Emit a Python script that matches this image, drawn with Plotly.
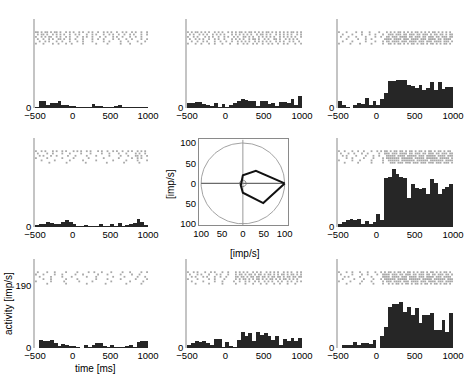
import plotly.graph_objects as go
import numpy as np

# ---------------- data ----------------
bin_starts = list(range(-500, 1000, 50))   # 30 bins of 50 ms
bin_width = 50

# PSTH values [imp/s], panels in reading order (direction in comments)
hist_ul = [3, 22, 22, 10, 15, 15, 22, 9, 9, 7, 5, 3, 2, 2, 2, 13, 7, 7, 2, 2, 2, 7, 10, 2, 1, 2, 2, 2, 2, 3]      # 135 deg
hist_u = [15, 15, 18, 18, 12, 10, 6, 14, 3, 12, 3, 10, 16, 22, 27, 25, 22, 20, 5, 22, 22, 12, 15, 6, 17, 17, 14, 28, 10, 35]  # 90 deg
hist_ur = [20, 8, 3, 0, 8, 15, 12, 30, 10, 20, 10, 28, 45, 82, 82, 85, 85, 85, 70, 68, 60, 70, 55, 60, 78, 55, 78, 58, 65, 65]  # 45 deg
hist_l = [5, 8, 10, 15, 12, 8, 10, 15, 20, 15, 8, 3, 3, 5, 3, 2, 3, 8, 2, 3, 10, 2, 12, 3, 5, 8, 12, 25, 15, 5]   # 180 deg
hist_r = [8, 15, 20, 25, 20, 25, 10, 18, 10, 15, 38, 20, 150, 152, 175, 160, 152, 150, 87, 130, 118, 115, 117, 100, 145, 135, 100, 115, 120, 130]  # 0 deg
hist_ll = [0, 25, 20, 22, 25, 15, 5, 12, 10, 5, 5, 2, 0, 8, 3, 10, 15, 15, 5, 3, 8, 3, 2, 2, 5, 8, 3, 18, 20, 20]  # 225 deg
hist_d = [10, 15, 22, 18, 20, 15, 10, 28, 28, 2, 18, 5, 3, 25, 50, 35, 45, 20, 50, 40, 45, 35, 25, 35, 10, 28, 22, 30, 20, 30]  # 270 deg
hist_dr = [0, 8, 8, 8, 18, 8, 15, 15, 12, 25, 0, 37, 65, 123, 133, 135, 140, 110, 125, 100, 120, 75, 100, 100, 105, 55, 55, 85, 50, 107]  # 315 deg

# Raster rows (one string per trial, '|' = spike, equal time slots over -500..1000 ms)
raster_ul = [
    "||.|.||.|.||.|..|.|.|..|.|..|.|..|..|.|.|..|..|.|..|.|..|..|",
    ".|.||.|..|.|.|.|..|..|.|...|..|.|...|..|.|..|..|..|.|...|..|",
    "|..|.|.||..|.|..|.|...|..|.|..|...|..|...|.|..|...|..|..|...",
    ".|..|..|.|..||.|..|..|...|....|..|..|....|..|...|..|....|..|",
    "..|..|.|...|..|...|...|..|....|.....|..|.....|...|....|...|.",
    "|...|....|..|...|..|.....|......|.....|......|....|.....|...",
]
raster_u = [
    "|.|.||.|.|.|..|.|.|..|.|.|.||.|.||.|.|.|.||.|.|.|.|.|.||.|.|",
    ".|.|..|.|.|..|.|.|.|...|.|.|.|.|.|..|.||.|.|..|.|.|.|.|..|.|",
    "|..|.|...|.|.|..|..|.|..|.|..||.|.|..|.|.|.|.|..|.|.|.|.|..|",
    ".|..|.|.|..|..|.|..|...|.|.|.|..|.||.|..|.|..||.|..|.|.|.|..",
    "..|..|..|.|...|..|..|..|..|.|.|.|..|.|.|.|.|..|.|.|..|.|..|.",
    "|...|..|...|..|...|...|...|..|.|..|.|..|..|.|..|..|.|...|..|",
]
raster_ur = [
    "|...|....|..|...|....|...|.|.|.||.|.|.|.||.|.|.|.||.|.|.|.|.",
    "..|....|....|...|..|...|..|||.|||.||.|||.||.|||.|.||.||.|.||",
    ".|...|...|....|....|..|..||.|||.||||.||.|||.||.|||.||.|||.||",
    "....|.....|...|..|......||||.||||.|||.||||.|||.||||.||.||||.",
    "..|....|......|....|...|.||.||||.|||.||||.|||.|||.||||.|||.|",
    "|.....|....|.....|.....|..||.|.||.|.|.||.|.||.|.||.|.|.||.|.",
]
raster_l = [
    "|..|.|...|.|..|.|...|.|.|..|.|...|.|..|..|.|..|..|.|..|.|.|.",
    ".|....|..|....|...|.....|....|.....|...|....|...|....|.|..|.",
    "..|.|...|..|.....|...|.....|....|......|.....|...|...||.|..|",
    "|.....|.......|.....|.......|.......|.......|......|..|.|...",
    "...|......|.......|......|......|........|......|.....|....|",
    ".......|........|.........|..........|........|.......|....",
]
raster_r = [
    "|..|...|..|..|...|..|.|.||.|.||.||.|.||.|.||.|.||.|.||.|.||.",
    ".|...|..|...|..|.....|..|||.|||.||||.||.|||.||.|||.||.|||.||",
    "..|.|....|....|...|..|...|||||.||||.|||||.|||.|||||.||||.|||",
    "....|..|.....|....|....|.|||||||.||||||.|||||.||||||.|||||.|",
    "|......|...|.....|.....|..||||||.|||||||.||||||.|||||||.||||",
    "...|......|......|.....|...|||.|||.|||.|||.|||.|||.|||.|||.|",
]
raster_ll = [
    ".|....|...|.....|.....|.....|..|...|....|.....|...|.....|..|",
    "|...|.....|...|......|...|.......|....|......|.....|...|....",
    "..|.....|.....|....|.......|....|........|.....|......|...|.",
    "....|...|.......|.....|.........|.....|......|.......|.....|",
    "|.......|......|.......|......|.........|.........|......|..",
    "......|.........|..........|.........|..........|.......|...",
]
raster_d = [
    "|..|.|...|..|.|...|..|...|.|.|.|..|.|.|..|.|.|.|..|.|.|..|.|",
    ".|...|.|...|...|.|...|...|.||.|.||.|.||.|.||.|.|.||.|.||.|.|",
    "..|.|...|.|...|..|..|....||.||.|.||.||.||.|.||.||.|.||.||.||",
    "|....|.....|..|....|.....|.|.||.|.|.||.|.|.||.|.|.||.|.|.|..",
    "..|.....|.....|...|.....|..|..|.|..|.|..|.|.|..|.|..|.|..|.|",
    "....|......|......|......|....|...|...|..|...|..|...|...|...",
]
raster_dr = [
    "|...|..|...|...|...|..|.|.||.|.||.|.||.|.|.||.|.||.|.|.||.|.",
    ".|.....|....|..|....|..||||.|||.||.|||.||.|||.||.||.|||.||.|",
    "...|.|.....|.....|.....||||.||||.|||.||||.|||.||||.|||.||||.",
    "..|.....|....|....|...|.||||||.|||||.||||||.|||||.||||||.|||",
    "|.....|.....|....|.....|.|||.||||.|||.||||.|||.||||.|||.||||",
    "....|......|......|....|..|.|.||.|.||.|.||.|.||.|.||.|.||.|.",
]

# Tuning (polar) plot
directions_deg = [0, 45, 90, 135, 180, 225, 270, 315]
mean_response = [100, 44, 20, 6, 5, 7, 23, 69]
spontaneous_rate = 8
outer_circle = 100

x_ticks = [-500, 0, 500, 1000]
polar_ticks = [-100, -50, 0, 50, 100]
polar_ticktext = ["100", "50", "0", "50", "100"]

# ---------------- layout geometry ----------------
W, H = 474, 389
col_px = [(35, 148), (187, 302), (338, 453)]
row_base = [108, 227, 348]
panel_h = 89
Y_MAX = 270

panels = [
    (0, 0, hist_ul, raster_ul),
    (0, 1, hist_u, raster_u),
    (0, 2, hist_ur, raster_ur),
    (1, 0, hist_l, raster_l),
    (1, 2, hist_r, raster_r),
    (2, 0, hist_ll, raster_ll),
    (2, 1, hist_d, raster_d),
    (2, 2, hist_dr, raster_dr),
]

FONT = "Liberation Sans, Arial, Helvetica, sans-serif"
BAR_COLOR = "#262626"
DOT_COLOR = "#a8a8a8"
AXIS_COLOR = "#c4c4c4"

fig = go.Figure()
layout = {}

raster_rows_y = [230, 223, 216, 209, 202, 195]

for i, (r, c, hist, raster) in enumerate(panels, start=1):
    xs = "" if i == 1 else str(i)
    x0, x1 = col_px[c]
    yb = row_base[r]
    yt = yb - panel_h
    centers = [b + bin_width / 2 for b in bin_starts]
    fig.add_trace(go.Bar(
        x=centers, y=hist, width=bin_width,
        marker=dict(color=BAR_COLOR, line=dict(width=0)),
        xaxis="x" + xs, yaxis="y" + xs, showlegend=False, hoverinfo="skip",
    ))
    sx, sy = [], []
    for row_y, s in zip(raster_rows_y, raster):
        n = len(s)
        slot = 1500.0 / n
        for k, ch in enumerate(s):
            if ch == "|":
                sx.append(-500 + slot * (k + 0.5))
                sy.append(row_y)
    fig.add_trace(go.Scatter(
        x=sx, y=sy, mode="markers",
        marker=dict(color=DOT_COLOR, size=1.8, symbol="square", line=dict(width=0)),
        xaxis="x" + xs, yaxis="y" + xs, showlegend=False, hoverinfo="skip",
    ))
    layout["xaxis" + xs] = dict(
        domain=[x0 / W, x1 / W], range=[-500, 1000], anchor="y" + xs,
        tickvals=x_ticks, ticks="", showgrid=False, zeroline=False, showline=False,
        automargin=False,
        tickfont=dict(size=9.5, color="black", family=FONT),
    )
    yticks = [0, 190] if (r, c) == (2, 0) else [0]
    layout["yaxis" + xs] = dict(
        domain=[1 - yb / H, 1 - yt / H], range=[0, Y_MAX], anchor="x" + xs,
        tickvals=yticks, ticks="", showgrid=False, zeroline=False,
        showline=True, linecolor=AXIS_COLOR, linewidth=1.5, automargin=False,
        tickfont=dict(size=9.5, color="black", family=FONT),
    )

# ---------------- polar tuning panel (center) ----------------
theta = np.deg2rad(directions_deg + [directions_deg[0]])
rr = np.array(mean_response + [mean_response[0]], dtype=float)
px = rr * np.cos(theta)
py = rr * np.sin(theta)

t = np.linspace(0, 2 * np.pi, 181)
fig.add_trace(go.Scatter(x=outer_circle * np.cos(t), y=outer_circle * np.sin(t), mode="lines",
                         line=dict(color="#8a8a8a", width=0.8),
                         xaxis="x9", yaxis="y9", showlegend=False, hoverinfo="skip"))
fig.add_trace(go.Scatter(x=[-outer_circle, outer_circle], y=[0, 0], mode="lines",
                         line=dict(color="#6a6a6a", width=1.3),
                         xaxis="x9", yaxis="y9", showlegend=False, hoverinfo="skip"))
fig.add_trace(go.Scatter(x=[0, 0], y=[-outer_circle - 5, outer_circle + 8], mode="lines",
                         line=dict(color="#9a9a9a", width=1),
                         xaxis="x9", yaxis="y9", showlegend=False, hoverinfo="skip"))
fig.add_trace(go.Scatter(x=spontaneous_rate * np.cos(t), y=spontaneous_rate * np.sin(t), mode="lines",
                         line=dict(color="#6a6a6a", width=0.8),
                         xaxis="x9", yaxis="y9", showlegend=False, hoverinfo="skip"))
fig.add_trace(go.Scatter(x=px, y=py, mode="lines",
                         line=dict(color="#111111", width=2),
                         xaxis="x9", yaxis="y9", showlegend=False, hoverinfo="skip"))

layout["xaxis9"] = dict(
    domain=[199 / W, 288 / W], range=[-105, 108], anchor="y9",
    tickvals=polar_ticks, ticktext=polar_ticktext, ticks="",
    showgrid=False, zeroline=False, showline=True, mirror=True,
    linecolor="#8a8a8a", linewidth=1, automargin=False,
    tickfont=dict(size=9.5, color="black", family=FONT),
)
layout["yaxis9"] = dict(
    domain=[1 - 225 / H, 1 - 139 / H], range=[-103, 110], anchor="x9",
    tickvals=polar_ticks, ticktext=polar_ticktext, ticks="",
    showgrid=False, zeroline=False, showline=True, mirror=True,
    linecolor="#8a8a8a", linewidth=1, automargin=False,
    tickfont=dict(size=9.5, color="black", family=FONT),
)

ann_common = dict(xref="paper", yref="paper", showarrow=False,
                  xanchor="center", yanchor="middle",
                  font=dict(size=10, color="black", family=FONT))
annotations = [
    dict(text="[imp/s]", x=245 / W, y=1 - 253 / H, **ann_common),
    dict(text="[imp/s]", x=170 / W, y=1 - 184 / H, textangle=-90, **ann_common),
    dict(text="activity [imp/s]", x=8 / W, y=1 - 304 / H, textangle=-90, **ann_common),
    dict(text="time [ms]", x=95 / W, y=1 - 368 / H, **ann_common),
]

fig.update_layout(
    width=W, height=H,
    margin=dict(l=0, r=0, t=0, b=0, autoexpand=False),
    paper_bgcolor="white", plot_bgcolor="white",
    bargap=0, showlegend=False,
    annotations=annotations,
    **layout,
)

fig.write_html("out.html", config={"displayModeBar": False},
               post_script="document.body.style.margin='0';")
